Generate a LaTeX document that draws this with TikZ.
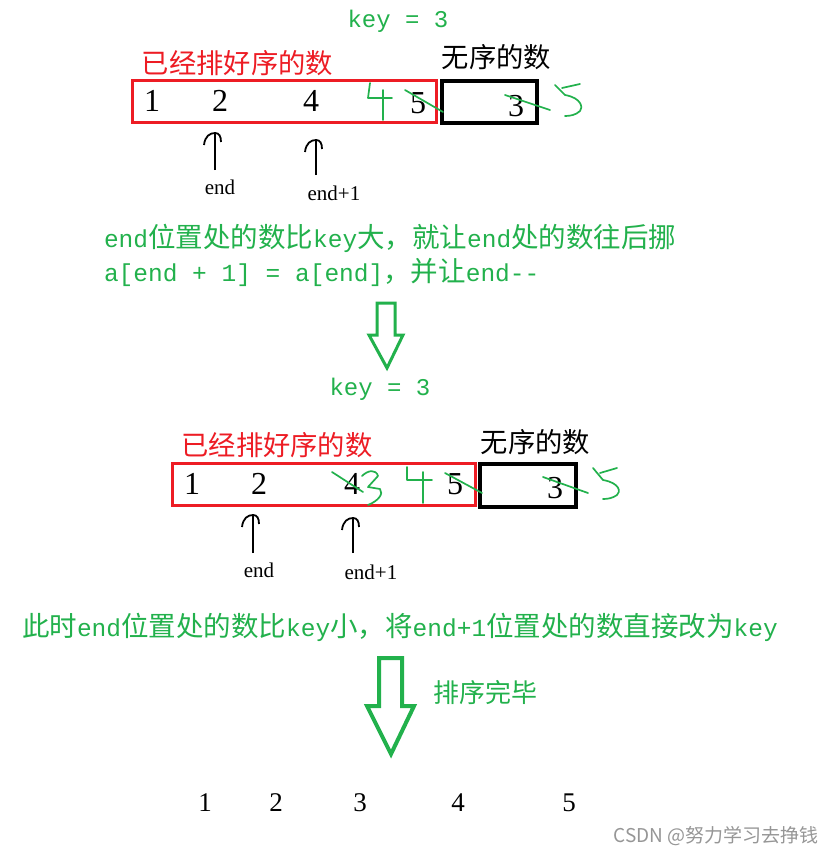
\documentclass[tikz,border=0pt]{standalone}
\usepackage{fontspec}
\newfontfamily\cjk{Noto Sans CJK SC}
\newfontfamily\mono{Liberation Mono}
\newfontfamily\ser{Liberation Serif}
\definecolor{grn}{RGB}{34,177,76}
\definecolor{rd}{RGB}{237,28,36}
\definecolor{wm}{RGB}{150,150,150}
\newcommand\A[1]{{\mono\fontsize{24.5}{24.5}\selectfont #1}}
\tikzset{
  every node/.style={inner sep=0pt, outer sep=0pt},
  keytxt/.style={text=grn, font=\mono\fontsize{24}{24}\selectfont},
  redlabel/.style={text=rd, font=\cjk\fontsize{27.3}{27.3}\selectfont},
  blklabel/.style={text=black, font=\cjk\fontsize{27.3}{27.3}\selectfont},
  gtext/.style={text=grn, anchor=west, font=\cjk\fontsize{27.5}{27.5}\selectfont},
  num/.style={font=\ser\fontsize{32}{32}\selectfont},
  fnum/.style={font=\ser\fontsize{27}{27}\selectfont},
  endlab/.style={font=\ser\fontsize{21}{21}\selectfont},
  redbox/.style={draw=rd, line width=3pt},
  blackbox/.style={draw=black, line width=4pt},
  hand/.style={draw=grn, line width=1.7pt, line cap=round, line join=round},
  shaft/.style={draw=black, line width=1.8pt},
  hollow/.style={draw=grn, line join=miter},
  archhead/.pic={\draw[line width=1.8pt] (-11,12) .. controls (-10,3) and (-5,0) .. (0,0) .. controls (4,0) and (6,3) .. (6,9);}
}
\begin{document}
\begin{tikzpicture}[x=1pt,y=-1pt]
\useasboundingbox[fill=white] (0,0) rectangle (838,855);

% ---------- block 1 ----------
\node[keytxt] (key1) at (398,21) {key = 3};
\node[redlabel] (lab1) at (237.5,63) {已经排好序的数};
\node[blklabel] (un1) at (496.5,57) {无序的数};
\node[redbox, minimum width=303.5pt, minimum height=42pt] (sorted1) at (284.25,101) {};
\node[blackbox, minimum width=95pt, minimum height=42pt] (unsorted1) at (489.5,102) {};
\node[num] (n11) at (152,101) {1};
\node[num] (n12) at (220,101) {2};
\node[num] (n14) at (311,101) {4};
\node[num] (n15) at (418,103) {5};
\node[num] (n13) at (516,106) {3};
% hand marks
\draw[hand] (370,83) -- (368,98) -- (392,98);
\draw[hand] (383,90) -- (383,120);
\draw[hand] (405,90) -- (443,112);
\draw[hand] (505,95) -- (550,110);
\draw[hand] (555,85) -- (565,95);
\draw[hand] (562,88) -- (580,84);
\draw[hand] (565,95) .. controls (582,98) and (583,108) .. (580,111) .. controls (576,115) and (570,116) .. (565,116);
% pointers
\node[endlab] (e1) at (220,187) {end};
\node[endlab] (e1p) at (334,193) {end+1};
\coordinate (t11) at (215,133); \coordinate (b11) at (215,170);
\coordinate (t12) at (316,140); \coordinate (b12) at (316,175);
\draw[shaft] (b11) -- (t11); \pic at (t11) {archhead};
\draw[shaft] (b12) -- (t12); \pic at (t12) {archhead};

\node[gtext] (g1) at (104,238) {\A{end}位置处的数比\A{key}大，就让\A{end}处的数往后挪};
\node[gtext] (g2) at (104,272) {\A{a[end + 1] = a[end]}，并让\A{end-{}-}};

% hollow arrow 1
\draw[hollow, line width=3pt] (377,303) -- (395,303) -- (395,335) -- (403,335) -- (387,368) -- (369,335) -- (377,335) -- cycle;

% ---------- block 2 ----------
\node[keytxt] (key2) at (380,389) {key = 3};
\node[redlabel] (lab2) at (277,445) {已经排好序的数};
\node[blklabel] (un2) at (535.5,442) {无序的数};
\node[redbox, minimum width=303pt, minimum height=42pt] (sorted2) at (323.5,484) {};
\node[blackbox, minimum width=96pt, minimum height=43pt] (unsorted2) at (528,485.5) {};
\node[num] (n21) at (192,484) {1};
\node[num] (n22) at (259,484) {2};
\node[num] (n24) at (352,484) {4};
\node[num] (n25) at (455,484) {5};
\node[num] (n23) at (555,488) {3};
% hand marks
\draw[hand] (332,472) -- (363,492);
\draw[hand] (362,476) .. controls (368,470) and (376,469) .. (378,476) -- (368,487) -- (380,489) .. controls (384,494) and (378,501) .. (368,505);
\draw[hand] (407,467) -- (407,480) -- (432,480);
\draw[hand] (423,472) -- (423,503);
\draw[hand] (445,473) -- (482,493);
\draw[hand] (543,477) -- (588,493);
\draw[hand] (593,468) -- (603,480);
\draw[hand] (600,473) -- (617,468);
\draw[hand] (603,480) .. controls (620,483) and (621,492) .. (617,495) .. controls (613,498) and (608,499) .. (603,499);
% pointers
\node[endlab] (e2) at (259,570) {end};
\node[endlab] (e2p) at (371,572) {end+1};
\coordinate (t21) at (253,515); \coordinate (b21) at (253,553);
\coordinate (t22) at (353,518); \coordinate (b22) at (353,553);
\draw[shaft] (b21) -- (t21); \pic at (t21) {archhead};
\draw[shaft] (b22) -- (t22); \pic at (t22) {archhead};

\node[gtext] (g3) at (22,627) {此时\A{end}位置处的数比\A{key}小，将\A{end+1}位置处的数直接改为\A{key}};

% hollow arrow 2
\draw[hollow, line width=4pt] (379,658) -- (402,658) -- (402,706) -- (414,706) -- (391,754) -- (367,706) -- (379,706) -- cycle;
\node[text=grn, font=\cjk\fontsize{26}{26}\selectfont] (done) at (485,693) {排序完毕};

% final row
\node[fnum] (f1) at (205,803) {1};
\node[fnum] (f2) at (276,803) {2};
\node[fnum] (f3) at (360,803) {3};
\node[fnum] (f4) at (458,803) {4};
\node[fnum] (f5) at (569,803) {5};

\node[text=wm, font=\cjk\fontsize{19}{19}\selectfont] (wmk) at (716,836) {CSDN @努力学习去挣钱};
\end{tikzpicture}
\end{document}
